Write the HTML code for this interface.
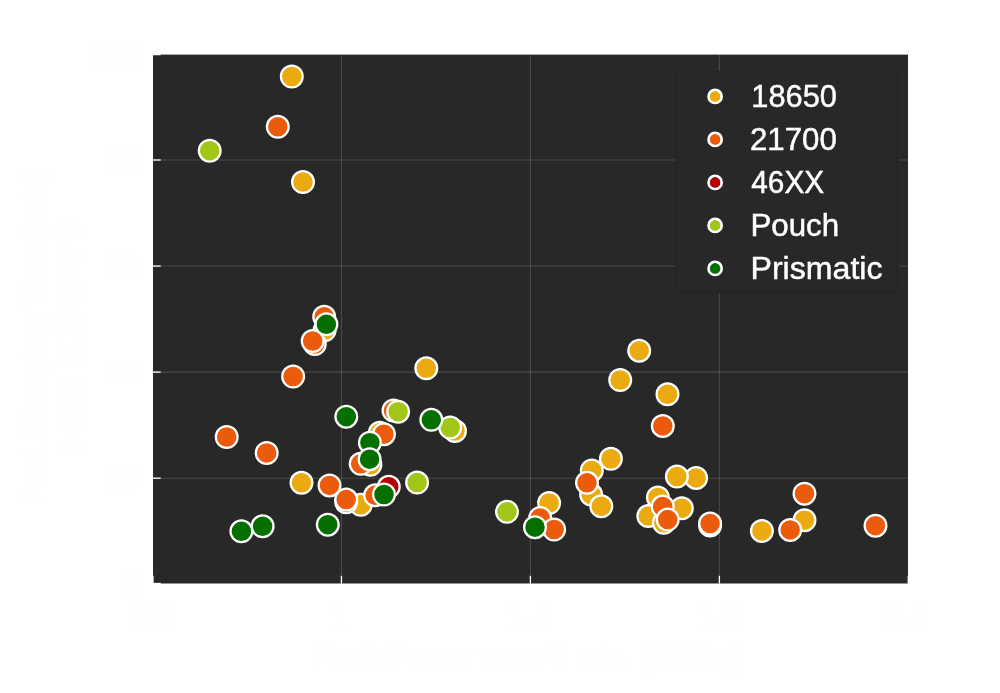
<!DOCTYPE html>
<html lang="en">
<head>
<meta charset="utf-8">
<title>Fast Charging Time vs Peak Power</title>
<style>
html,body{margin:0;padding:0;background:#fff;}
body{width:1000px;height:693px;overflow:hidden;}
svg{display:block;}
text{font-family:"Liberation Sans", sans-serif;}
</style>
</head>
<body>
<svg width="1000" height="693" viewBox="0 0 1000 693">
<rect x="0" y="0" width="1000" height="693" fill="#ffffff"/>
<rect x="153.0" y="54.6" width="755.0" height="528.9" fill="#282828"/>
<g stroke="#ffffff" stroke-opacity="0.15" stroke-width="1.1">
<line x1="341.45" y1="54.6" x2="341.45" y2="583.5"/>
<line x1="530.4" y1="54.6" x2="530.4" y2="583.5"/>
<line x1="719.4" y1="54.6" x2="719.4" y2="583.5"/>
<line x1="153.0" y1="160.0" x2="908.0" y2="160.0"/>
<line x1="153.0" y1="266.05" x2="908.0" y2="266.05"/>
<line x1="153.0" y1="372.12" x2="908.0" y2="372.12"/>
<line x1="153.0" y1="478.2" x2="908.0" y2="478.2"/>
</g>
<g stroke="#ffffff" stroke-width="1.3">
<line x1="153.0" y1="575.8" x2="153.0" y2="583.5"/>
<line x1="341.45" y1="575.8" x2="341.45" y2="583.5"/>
<line x1="530.4" y1="575.8" x2="530.4" y2="583.5"/>
<line x1="719.4" y1="575.8" x2="719.4" y2="583.5"/>
<line x1="908.25" y1="575.8" x2="908.25" y2="583.5"/>
<line x1="153.0" y1="54.6" x2="160.7" y2="54.6"/>
<line x1="153.0" y1="160.0" x2="160.7" y2="160.0"/>
<line x1="153.0" y1="266.05" x2="160.7" y2="266.05"/>
<line x1="153.0" y1="372.12" x2="160.7" y2="372.12"/>
<line x1="153.0" y1="478.2" x2="160.7" y2="478.2"/>
<line x1="153.0" y1="583.5" x2="160.7" y2="583.5"/>
</g>
<g fill="#EBAA0F" stroke="#ffffff" stroke-width="2.25">
<circle cx="291.8" cy="76.5" r="10.875"/>
<circle cx="303.0" cy="182.0" r="10.875"/>
<circle cx="324.6" cy="330.3" r="10.875"/>
<circle cx="426.3" cy="368.3" r="10.875"/>
<circle cx="301.5" cy="482.8" r="10.875"/>
<circle cx="360.8" cy="504.8" r="10.875"/>
<circle cx="370.4" cy="464.8" r="10.875"/>
<circle cx="379.8" cy="432.8" r="10.875"/>
<circle cx="455.0" cy="430.9" r="10.875"/>
<circle cx="549.1" cy="503.0" r="10.875"/>
<circle cx="591.8" cy="470.5" r="10.875"/>
<circle cx="610.9" cy="458.8" r="10.875"/>
<circle cx="591.1" cy="494.6" r="10.875"/>
<circle cx="601.3" cy="506.3" r="10.875"/>
<circle cx="639.2" cy="350.7" r="10.875"/>
<circle cx="620.2" cy="380.0" r="10.875"/>
<circle cx="667.5" cy="394.3" r="10.875"/>
<circle cx="696.1" cy="477.9" r="10.875"/>
<circle cx="676.9" cy="476.6" r="10.875"/>
<circle cx="657.9" cy="497.4" r="10.875"/>
<circle cx="681.8" cy="508.3" r="10.875"/>
<circle cx="648.3" cy="516.1" r="10.875"/>
<circle cx="663.8" cy="522.8" r="10.875"/>
<circle cx="710.1" cy="525.4" r="10.875"/>
<circle cx="761.9" cy="530.9" r="10.875"/>
<circle cx="804.5" cy="520.2" r="10.875"/>
</g>
<g fill="#EA5B0C" stroke="#ffffff" stroke-width="2.25">
<circle cx="277.8" cy="126.8" r="10.875"/>
<circle cx="324.2" cy="316.8" r="10.875"/>
<circle cx="314.8" cy="344.0" r="10.875"/>
<circle cx="312.7" cy="341.0" r="10.875"/>
<circle cx="293.1" cy="376.5" r="10.875"/>
<circle cx="226.7" cy="437.0" r="10.875"/>
<circle cx="266.7" cy="452.9" r="10.875"/>
<circle cx="329.5" cy="485.4" r="10.875"/>
<circle cx="346.2" cy="502.3" r="10.875"/>
<circle cx="346.2" cy="499.6" r="10.875"/>
<circle cx="360.7" cy="463.8" r="10.875"/>
<circle cx="383.9" cy="434.2" r="10.875"/>
<circle cx="393.5" cy="410.6" r="10.875"/>
<circle cx="375.2" cy="495.3" r="10.875"/>
<circle cx="540.2" cy="517.9" r="10.875"/>
<circle cx="554.1" cy="529.5" r="10.875"/>
<circle cx="587.0" cy="482.8" r="10.875"/>
<circle cx="662.8" cy="425.9" r="10.875"/>
<circle cx="662.7" cy="506.6" r="10.875"/>
<circle cx="667.7" cy="519.6" r="10.875"/>
<circle cx="710.1" cy="523.6" r="10.875"/>
<circle cx="804.5" cy="493.7" r="10.875"/>
<circle cx="790.2" cy="529.9" r="10.875"/>
<circle cx="875.5" cy="525.7" r="10.875"/>
</g>
<g fill="#B40000" stroke="#ffffff" stroke-width="2.25">
<circle cx="388.8" cy="486.8" r="10.875"/>
</g>
<g fill="#A2C617" stroke="#ffffff" stroke-width="2.25">
<circle cx="209.7" cy="150.7" r="10.875"/>
<circle cx="398.1" cy="411.7" r="10.875"/>
<circle cx="450.2" cy="427.5" r="10.875"/>
<circle cx="417.1" cy="482.6" r="10.875"/>
<circle cx="507.0" cy="511.8" r="10.875"/>
</g>
<g fill="#057000" stroke="#ffffff" stroke-width="2.25">
<circle cx="326.4" cy="324.3" r="10.875"/>
<circle cx="346.3" cy="416.7" r="10.875"/>
<circle cx="369.9" cy="442.7" r="10.875"/>
<circle cx="369.6" cy="459.2" r="10.875"/>
<circle cx="384.0" cy="494.5" r="10.875"/>
<circle cx="431.3" cy="419.8" r="10.875"/>
<circle cx="327.8" cy="524.7" r="10.875"/>
<circle cx="262.6" cy="526.3" r="10.875"/>
<circle cx="241.4" cy="531.3" r="10.875"/>
<circle cx="535.0" cy="527.2" r="10.875"/>
</g>
<defs><filter id="idf" x="0" y="0" width="100%" height="100%" filterUnits="userSpaceOnUse" color-interpolation-filters="sRGB"><feOffset dx="0" dy="0"/></filter></defs>
<g filter="url(#idf)">
<rect x="675" y="71" width="224" height="222.3" fill="#262626"/>
<rect x="678" y="74" width="218" height="216.3" fill="#282828"/>
<circle cx="715.1" cy="96.4" r="6.6" fill="#EBAA0F" stroke="#ffffff" stroke-width="2.6"/>
<text x="751.3" y="106.9" font-size="30.6" fill="#ffffff" stroke="#ffffff" stroke-width="0.45" textLength="85.6" lengthAdjust="spacingAndGlyphs">18650</text>
<circle cx="715.1" cy="139.4" r="6.6" fill="#EA5B0C" stroke="#ffffff" stroke-width="2.6"/>
<text x="749.9" y="149.9" font-size="30.6" fill="#ffffff" stroke="#ffffff" stroke-width="0.45" textLength="87.0" lengthAdjust="spacingAndGlyphs">21700</text>
<circle cx="715.1" cy="182.4" r="6.6" fill="#B40000" stroke="#ffffff" stroke-width="2.6"/>
<text x="751.3" y="192.9" font-size="30.6" fill="#ffffff" stroke="#ffffff" stroke-width="0.45" textLength="72.8" lengthAdjust="spacingAndGlyphs">46XX</text>
<circle cx="715.1" cy="225.4" r="6.6" fill="#A2C617" stroke="#ffffff" stroke-width="2.6"/>
<text x="750.4" y="235.9" font-size="30.6" fill="#ffffff" stroke="#ffffff" stroke-width="0.45" textLength="88.8" lengthAdjust="spacingAndGlyphs">Pouch</text>
<circle cx="715.1" cy="268.4" r="6.6" fill="#057000" stroke="#ffffff" stroke-width="2.6"/>
<text x="750.5" y="278.9" font-size="30.6" fill="#ffffff" stroke="#ffffff" stroke-width="0.45" textLength="132.0" lengthAdjust="spacingAndGlyphs">Prismatic</text>
</g>
<text x="140" y="65.6" font-size="30.6" fill="#fefefe" text-anchor="end">100</text>
<text x="140" y="171.0" font-size="30.6" fill="#fefefe" text-anchor="end">80</text>
<text x="140" y="277.0" font-size="30.6" fill="#fefefe" text-anchor="end">60</text>
<text x="140" y="383.0" font-size="30.6" fill="#fefefe" text-anchor="end">40</text>
<text x="140" y="489.0" font-size="30.6" fill="#fefefe" text-anchor="end">20</text>
<text x="140" y="594.5" font-size="30.6" fill="#fefefe" text-anchor="end">0</text>
<text x="151.8" y="627.3" font-size="30.6" fill="#fefefe" text-anchor="middle">0.6</text>
<text x="340.2" y="627.3" font-size="30.6" fill="#fefefe" text-anchor="middle">1</text>
<text x="529.2" y="627.3" font-size="30.6" fill="#fefefe" text-anchor="middle">1.4</text>
<text x="718.2" y="627.3" font-size="30.6" fill="#fefefe" text-anchor="middle">1.8</text>
<text x="906.8" y="627.3" font-size="30.6" fill="#fefefe" text-anchor="middle">2.2</text>
<text x="526.4" y="665.8" font-size="30.6" fill="#fefefe" text-anchor="middle" textLength="429" lengthAdjust="spacingAndGlyphs">Peak Power over 5 min. [kW/kg]</text>
<text transform="translate(44,338) rotate(-90)" font-size="30.6" fill="#fefefe" text-anchor="middle" textLength="336" lengthAdjust="spacingAndGlyphs">Fast Charging Time [min]</text>
<text transform="translate(80.7,338) rotate(-90)" font-size="30.6" fill="#fefefe" text-anchor="middle" textLength="236" lengthAdjust="spacingAndGlyphs">0-90% SOC @ 0°C</text>
</svg>
</body>
</html>
